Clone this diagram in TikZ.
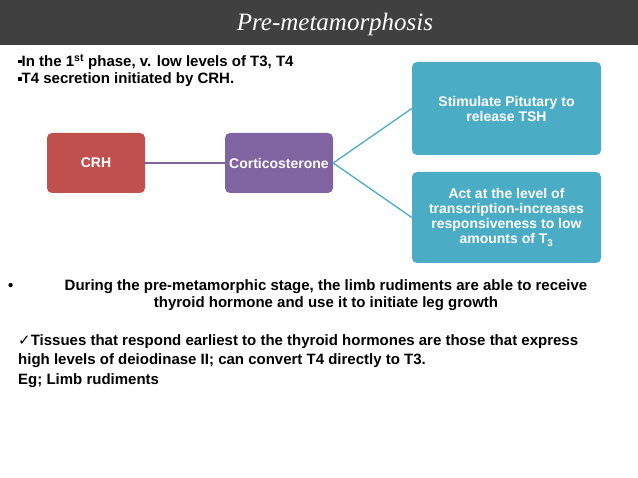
\documentclass[tikz,border=0pt]{standalone}
\usepackage{fontspec}
\setmainfont{Liberation Sans}
\newfontfamily\titlefont{Liberation Serif}
\newfontfamily\dejavu{DejaVu Sans}
\newcommand{\sqb}{\raisebox{3pt}{\rule{3.5pt}{3.5pt}}}
\begin{document}
\begin{tikzpicture}[x=1pt,y=-1pt,
  box/.style={rounded corners=5pt,draw=none,text=white,font=\bfseries\fontsize{14}{15}\selectfont,align=center,inner sep=0pt},
  txt/.style={anchor=west,font=\bfseries\fontsize{15}{17}\selectfont,inner sep=0pt}]
\useasboundingbox[fill=white] (0,0) rectangle (638,478);
\fill[black!75] (0,0) rectangle (638,45);
\node[text=white,font=\titlefont\itshape\fontsize{25}{26}\selectfont] (title) at (335,24) {Pre-metamorphosis};
\node[txt] (b1) at (18,62) {\sqb In the 1\textsuperscript{st} phase, v. low levels of T3, T4};
\node[txt] (b2) at (18,80) {\sqb T4 secretion initiated by CRH.};
\node[box,fill={rgb,255:red,192;green,80;blue,77},minimum width=98pt,minimum height=60pt] (crh) at (96,163) {CRH};
\node[box,fill={rgb,255:red,128;green,100;blue,162},minimum width=108pt,minimum height=60pt] (cort) at (279,163) {Corticosterone};
\node[box,fill={rgb,255:red,75;green,172;blue,198},minimum width=189pt,minimum height=93pt] (stim) at (506.5,108.5) {Stimulate Pitutary to\\release TSH};
\node[box,fill={rgb,255:red,75;green,172;blue,198},minimum width=189pt,minimum height=91pt] (act) at (506.5,217.5) {Act at the level of\\transcription-increases\\responsiveness to low\\amounts of T\textsubscript{3}};
\draw[line width=1.3pt,draw={rgb,255:red,128;green,100;blue,162}] (crh.east) -- (cort.west);
\draw[line width=1.3pt,draw={rgb,255:red,75;green,172;blue,198}] (stim.west) -- (cort.east) -- (act.west);
\node[txt] (dot) at (8,287) {•};
\node[font=\bfseries\fontsize{15}{17}\selectfont,align=center,inner sep=0pt] (p1) at (326,295) {During the pre-metamorphic stage, the limb rudiments are able to receive\\thyroid hormone and use it to initiate leg growth};
\node[font=\bfseries\fontsize{15}{19.5}\selectfont,align=left,anchor=north west,inner sep=0pt] (p2) at (18,334) {{\dejavu ✓}Tissues that respond earliest to the thyroid hormones are those that express\\high levels of deiodinase II; can convert T4 directly to T3.\\Eg; Limb rudiments};
\end{tikzpicture}
\end{document}
